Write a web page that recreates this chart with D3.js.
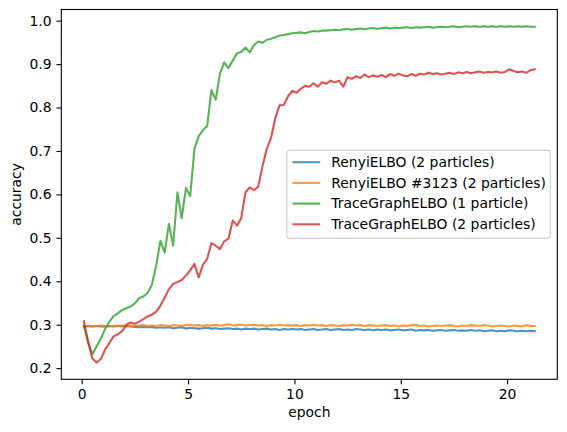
<!DOCTYPE html>
<html>
<head>
<meta charset="utf-8">
<script src="https://cdn.jsdelivr.net/npm/d3@7"></script>
<style>
  body { margin: 0; background: #fff; }
  svg text { font-family: "DejaVu Sans", sans-serif; }
</style>
</head>
<body>
<div id="container"></div>
<script>
// epochs shared by all four runs
var epochs = [
  0.1, 0.3, 0.5, 0.7, 0.9, 1.1, 1.3, 1.5, 1.7, 1.9,
  2.1, 2.3, 2.5, 2.7, 2.9, 3.1, 3.3, 3.5, 3.7, 3.9,
  4.1, 4.3, 4.5, 4.7, 4.9, 5.1, 5.3, 5.5, 5.7, 5.9,
  6.1, 6.3, 6.5, 6.7, 6.9, 7.1, 7.3, 7.5, 7.7, 7.9,
  8.1, 8.3, 8.5, 8.7, 8.9, 9.1, 9.3, 9.5, 9.7, 9.9,
  10.1, 10.3, 10.5, 10.7, 10.9, 11.1, 11.3, 11.5, 11.7, 11.9,
  12.1, 12.3, 12.5, 12.7, 12.9, 13.1, 13.3, 13.5, 13.7, 13.9,
  14.1, 14.3, 14.5, 14.7, 14.9, 15.1, 15.3, 15.5, 15.7, 15.9,
  16.1, 16.3, 16.5, 16.7, 16.9, 17.1, 17.3, 17.5, 17.7, 17.9,
  18.1, 18.3, 18.5, 18.7, 18.9, 19.1, 19.3, 19.5, 19.7, 19.9,
  20.1, 20.3, 20.5, 20.7, 20.9, 21.1, 21.3
];

var renyi = [
  0.296, 0.297, 0.296, 0.297, 0.296, 0.296, 0.297, 0.296, 0.297, 0.296,
  0.297, 0.296, 0.295, 0.294, 0.295, 0.294, 0.295, 0.293, 0.294, 0.293,
  0.294, 0.292, 0.293, 0.294, 0.291, 0.293, 0.292, 0.291, 0.292, 0.293,
  0.291, 0.292, 0.290, 0.291, 0.292, 0.290, 0.291, 0.289, 0.291, 0.290,
  0.291, 0.289, 0.290, 0.291, 0.289, 0.290, 0.288, 0.290, 0.289, 0.290,
  0.289, 0.290, 0.288, 0.289, 0.290, 0.288, 0.289, 0.290, 0.288, 0.289,
  0.290, 0.288, 0.289, 0.288, 0.290, 0.289, 0.288, 0.289, 0.287, 0.289,
  0.288, 0.289, 0.287, 0.288, 0.289, 0.287, 0.288, 0.289, 0.286, 0.288,
  0.287, 0.288, 0.286, 0.287, 0.288, 0.286, 0.287, 0.288, 0.286, 0.287,
  0.286, 0.288, 0.286, 0.287, 0.285, 0.286, 0.287, 0.285, 0.286, 0.285,
  0.287, 0.286, 0.285, 0.286, 0.285, 0.286, 0.285
];

var renyi3123 = [
  0.295, 0.297, 0.296, 0.297, 0.298, 0.297, 0.296, 0.298, 0.297, 0.298,
  0.297, 0.298, 0.297, 0.298, 0.299, 0.297, 0.298, 0.297, 0.299, 0.298,
  0.297, 0.299, 0.298, 0.297, 0.299, 0.300, 0.298, 0.299, 0.297, 0.299,
  0.298, 0.300, 0.298, 0.299, 0.301, 0.298, 0.299, 0.300, 0.298, 0.299,
  0.300, 0.298, 0.299, 0.297, 0.299, 0.298, 0.300, 0.298, 0.299, 0.298,
  0.299, 0.297, 0.299, 0.298, 0.300, 0.298, 0.299, 0.297, 0.299, 0.298,
  0.297, 0.299, 0.298, 0.300, 0.298, 0.299, 0.297, 0.299, 0.298, 0.297,
  0.298, 0.299, 0.297, 0.298, 0.296, 0.298, 0.297, 0.299, 0.300, 0.297,
  0.298, 0.296, 0.297, 0.298, 0.297, 0.298, 0.299, 0.297, 0.296, 0.298,
  0.297, 0.299, 0.298, 0.297, 0.299, 0.298, 0.296, 0.297, 0.298, 0.297,
  0.296, 0.298, 0.297, 0.296, 0.299, 0.297, 0.297
];

var traceGraph1 = [
  0.298, 0.258, 0.232, 0.250, 0.268, 0.290, 0.307, 0.320, 0.326, 0.334,
  0.338, 0.342, 0.349, 0.361, 0.365, 0.373, 0.392, 0.436, 0.493, 0.466,
  0.532, 0.482, 0.605, 0.545, 0.615, 0.596, 0.705, 0.734, 0.748, 0.758,
  0.840, 0.818, 0.878, 0.904, 0.891, 0.908, 0.925, 0.928, 0.938, 0.927,
  0.944, 0.952, 0.949, 0.956, 0.958, 0.962, 0.966, 0.967, 0.969, 0.971,
  0.972, 0.973, 0.971, 0.974, 0.976, 0.975, 0.977, 0.977, 0.978, 0.979,
  0.978, 0.980, 0.981, 0.979, 0.981, 0.982, 0.980, 0.982, 0.983, 0.981,
  0.983, 0.984, 0.982, 0.984, 0.983, 0.984, 0.985, 0.983, 0.985, 0.984,
  0.985, 0.986, 0.984, 0.985, 0.986, 0.985, 0.986, 0.987, 0.985, 0.986,
  0.987, 0.986, 0.987, 0.986, 0.987, 0.986, 0.987, 0.986, 0.987, 0.986,
  0.987, 0.986, 0.987, 0.986, 0.987, 0.986, 0.986
];

var traceGraph2 = [
  0.308, 0.262, 0.222, 0.213, 0.221, 0.243, 0.258, 0.273, 0.278, 0.285,
  0.300, 0.305, 0.302, 0.307, 0.313, 0.319, 0.323, 0.330, 0.344, 0.362,
  0.382, 0.394, 0.398, 0.403, 0.413, 0.425, 0.440, 0.409, 0.438, 0.452,
  0.488, 0.482, 0.474, 0.492, 0.498, 0.540, 0.528, 0.545, 0.605, 0.616,
  0.610, 0.618, 0.665, 0.705, 0.730, 0.775, 0.805, 0.806, 0.826, 0.838,
  0.834, 0.843, 0.850, 0.848, 0.856, 0.848, 0.858, 0.855, 0.862, 0.858,
  0.862, 0.848, 0.870, 0.866, 0.872, 0.868, 0.876, 0.870, 0.874, 0.871,
  0.875, 0.870, 0.877, 0.873, 0.878, 0.874, 0.872, 0.877, 0.873, 0.878,
  0.876, 0.880, 0.877, 0.879, 0.876, 0.878, 0.880, 0.877, 0.881, 0.879,
  0.882, 0.879, 0.881, 0.883, 0.880, 0.882, 0.881, 0.883, 0.880, 0.882,
  0.888, 0.884, 0.881, 0.883, 0.880, 0.886, 0.888
];

var labels = [
  "RenyiELBO (2 particles)",
  "RenyiELBO #3123 (2 particles)",
  "TraceGraphELBO (1 particle)",
  "TraceGraphELBO (2 particles)"
];
var colors = ["#1f77b4", "#ff7f0e", "#2ca02c", "#d62728"];
var xTicks = [0, 5, 10, 15, 20];
var yTicks = [0.2, 0.3, 0.4, 0.5, 0.6, 0.7, 0.8, 0.9, 1.0];

var series = [renyi, renyi3123, traceGraph1, traceGraph2].map(function(vals, i) {
  return {
    label: labels[i],
    color: colors[i],
    points: vals.map(function(v, j) { return { x: epochs[j], y: v }; })
  };
});

var width = 567;
var height = 432;
var margin = { top: 9.5, right: 9.7, bottom: 52.7, left: 61.3 };
var fontSize = 13.9; // 10pt at 100 dpi

var svg = d3
  .select("#container")
  .append("svg")
  .attr("width", width)
  .attr("height", height);

// matplotlib-like 5% padding on the data extent
var xExt = d3.extent(epochs);
var xPad = (xExt[1] - xExt[0]) * 0.05;
var allY = renyi.concat(renyi3123, traceGraph1, traceGraph2);
var yExt = d3.extent(allY);
var yPad = (yExt[1] - yExt[0]) * 0.05;

var x = d3
  .scaleLinear()
  .domain([xExt[0] - xPad, xExt[1] + xPad])
  .range([margin.left, width - margin.right]);

var y = d3
  .scaleLinear()
  .domain([yExt[0] - yPad, yExt[1] + yPad])
  .range([height - margin.bottom, margin.top]);

var line = d3
  .line()
  .x(d => x(d.x))
  .y(d => y(d.y));

svg
  .append("g")
  .selectAll("path")
  .data(series)
  .enter()
  .append("path")
  .attr("d", d => line(d.points))
  .attr("fill", "none")
  .attr("stroke", d => d.color)
  .attr("stroke-opacity", 0.8)
  .attr("stroke-width", 2.08)
  .attr("stroke-linejoin", "round")
  .attr("stroke-linecap", "square");

// axes
var xAxis = svg
  .append("g")
  .attr("transform", "translate(0," + (height - margin.bottom) + ")")
  .call(
    d3.axisBottom(x)
      .tickValues(xTicks)
      .tickSize(4.86)
      .tickPadding(4.86)
      .tickFormat(d3.format("d"))
  );

var yAxis = svg
  .append("g")
  .attr("transform", "translate(" + margin.left + ",0)")
  .call(
    d3.axisLeft(y)
      .tickValues(yTicks)
      .tickSize(4.86)
      .tickPadding(4.86)
      .tickFormat(d3.format(".1f"))
  );

[xAxis, yAxis].forEach(function(g) {
  g.select(".domain").remove();
  g.selectAll(".tick line").attr("stroke", "#000").attr("stroke-width", 1.1);
  g.selectAll(".tick text")
    .attr("fill", "#000")
    .style("font-family", "DejaVu Sans")
    .style("font-size", fontSize + "px");
});

// frame
svg
  .append("rect")
  .attr("x", margin.left)
  .attr("y", margin.top)
  .attr("width", width - margin.left - margin.right)
  .attr("height", height - margin.top - margin.bottom)
  .attr("fill", "none")
  .attr("stroke", "#000")
  .attr("stroke-width", 1.1);

svg
  .append("text")
  .attr("x", (margin.left + width - margin.right) / 2)
  .attr("y", 417)
  .style("text-anchor", "middle")
  .style("font-size", fontSize + "px")
  .text("epoch");

svg
  .append("text")
  .attr("transform", "rotate(-90)")
  .attr("x", -(margin.top + height - margin.bottom) / 2)
  .attr("y", 20.5)
  .style("text-anchor", "middle")
  .style("font-size", fontSize + "px")
  .text("accuracy");

// legend, center right
var legW = 263.5;
var legH = 88;
var legX = width - margin.right - 7 - legW;
var legY = (margin.top + height - margin.bottom) / 2 - legH / 2;
var rowH = 20.7;

var legend = svg
  .append("g")
  .attr("transform", "translate(" + legX + "," + legY + ")");

legend
  .append("rect")
  .attr("width", legW)
  .attr("height", legH)
  .attr("rx", 2.8)
  .attr("fill", "#fff")
  .attr("fill-opacity", 0.8)
  .attr("stroke", "#cccccc")
  .attr("stroke-width", 1.1);

var rows = legend
  .selectAll("g.row")
  .data(series)
  .enter()
  .append("g")
  .attr("class", "row")
  .attr("transform", (d, i) => "translate(0," + (11.8 + i * rowH) + ")");

rows
  .append("line")
  .attr("x1", 5.6)
  .attr("x2", 33.4)
  .attr("stroke", d => d.color)
  .attr("stroke-opacity", 0.8)
  .attr("stroke-width", 2.08);

rows
  .append("text")
  .attr("x", 44.5)
  .attr("y", 4.8)
  .style("font-size", fontSize + "px")
  .text(d => d.label);
</script>
</body>
</html>
